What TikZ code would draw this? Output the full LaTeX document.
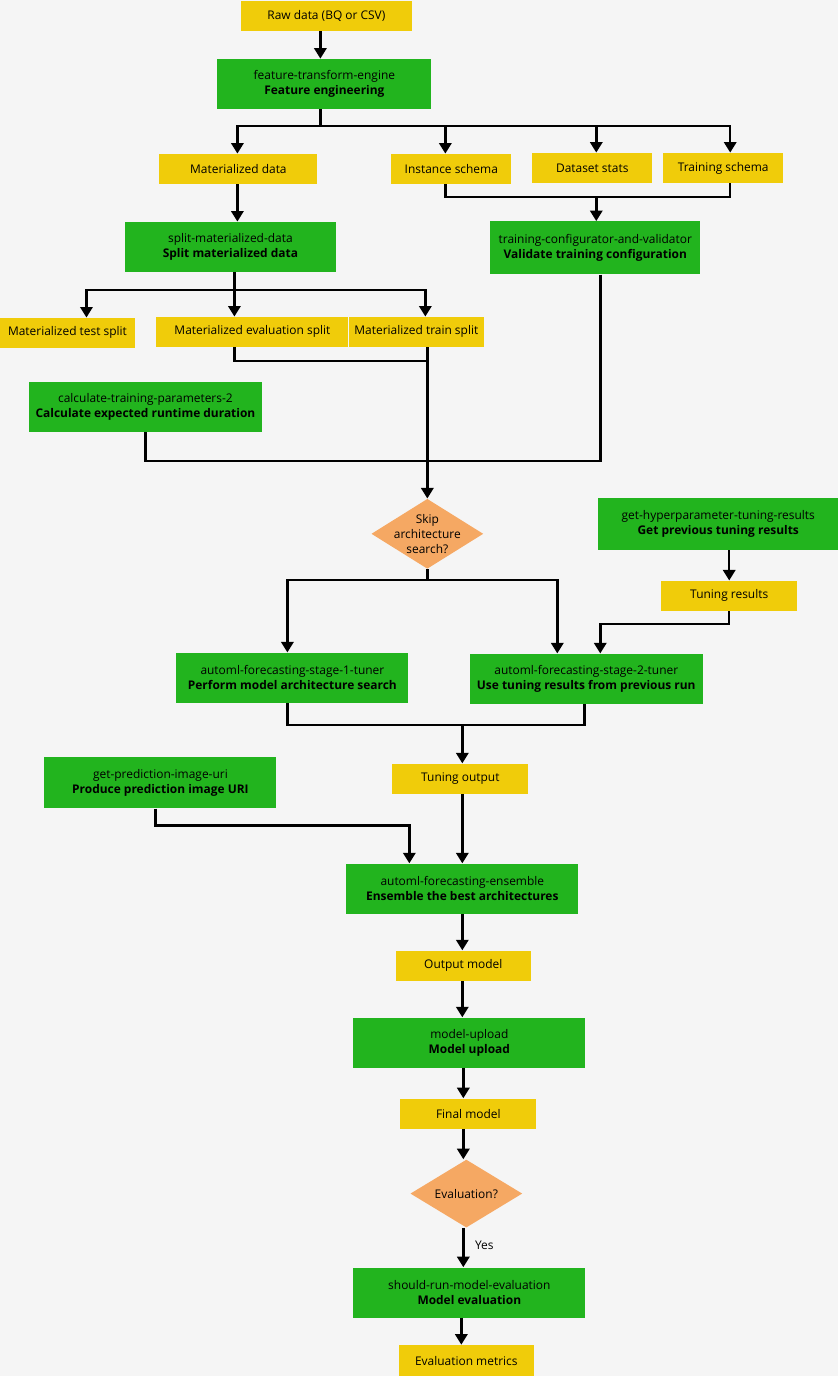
\documentclass[tikz,border=0pt]{standalone}
\usepackage{fontspec}
\setmainfont{Open Sans}
\usetikzlibrary{arrows.meta,shapes.geometric}
\definecolor{bgcol}{RGB}{245,245,245}
\definecolor{ycol}{RGB}{240,204,10}
\definecolor{gcol}{RGB}{34,180,30}
\definecolor{ocol}{RGB}{245,168,99}
\begin{document}
\begin{tikzpicture}[x=0.02cm,y=-0.02cm,
    every node/.style={font=\fontsize{6.8}{8.4}\selectfont, inner sep=0pt},
    data/.style={fill=ycol, minimum width=2.7cm, minimum height=0.6cm},
    task/.style={fill=gcol, align=center, minimum width=4.64cm, minimum height=1cm},
    choice/.style={diamond, fill=ocol, minimum width=2.24cm, minimum height=1.4cm},
    link/.style={line width=1.4pt},
    flow/.style={link, -{Triangle[length=6pt,width=7pt]}}]
        \fill[bgcol] (0,0) rectangle (838,1376);
        % inputs and feature engineering
        \node[data, minimum width=3.42cm] (raw) at (326,16) {Raw data (BQ or CSV)};
        \node[task, minimum width=4.28cm] (fte) at (324,84) {feature-transform-engine\\\textbf{Feature engineering}};
        \node[data, minimum width=3.16cm] (matdata) at (238,169) {Materialized data};
        \node[data, minimum width=2.4cm] (instschema) at (451,169) {Instance schema};
        \node[data, minimum width=2.4cm] (dsstats) at (592,168) {Dataset stats};
        \node[data, minimum width=2.4cm] (trainschema) at (723,168) {Training schema};
        \node[task, minimum width=4.22cm] (split) at (230,247) {split-materialized-data\\\textbf{Split materialized data}};
        \node[task, minimum width=4.2cm, minimum height=1.06cm] (tcv) at (595,248) {training-configurator-and-validator\\\textbf{Validate training configuration}};
        \node[data, minimum width=2.7cm] (mtest) at (67,333) {Materialized test split};
        \node[data, minimum width=3.84cm] (meval) at (252,332) {Materialized evaluation split};
        \node[data, minimum width=2.7cm] (mtrain) at (416,332) {Materialized train split};
        \node[task, minimum width=4.66cm] (ctp) at (145,407) {calculate-training-parameters-2\\\textbf{Calculate expected runtime duration}};
        % architecture search
        \node[choice, label=center:{\parbox{2cm}{\centering Skip\\architecture\\search?}}] (skip) at (427,534) {};
        \node[task, minimum width=4.8cm, minimum height=1.04cm] (ghtr) at (718,524) {get-hyperparameter-tuning-results\\\textbf{Get previous tuning results}};
        \node[data, minimum width=2.72cm] (tunres) at (729,596) {Tuning results};
        \node[task] (stage1) at (292,678) {automl-forecasting-stage-1-tuner\\\textbf{Perform model architecture search}};
        \node[task, minimum width=4.66cm] (stage2) at (586,679) {automl-forecasting-stage-2-tuner\\\textbf{Use tuning results from previous run}};
        \node[data, minimum width=2.72cm] (tunout) at (460,779) {Tuning output};
        \node[task, minimum height=1.02cm] (gpiu) at (160,783) {get-prediction-image-uri\\\textbf{Produce prediction image URI}};
        % ensemble and evaluation
        \node[task] (ensemble) at (462,889) {automl-forecasting-ensemble\\\textbf{Ensemble the best architectures}};
        \node[data] (outmodel) at (463,966) {Output model};
        \node[task] (upload) at (469,1043) {model-upload\\\textbf{Model upload}};
        \node[data, minimum width=2.72cm] (finalmodel) at (468,1114) {Final model};
        \node[choice, minimum height=1.36cm, label=center:Evaluation?] (evalq) at (466,1194) {};
        \node[task] (evalrun) at (469,1293) {should-run-model-evaluation\\\textbf{Model evaluation}};
        \node[data, minimum width=2.7cm, minimum height=0.62cm] (metrics) at (466,1361) {Evaluation metrics};
        % connectors
        \coordinate (fork1) at (320,126);
        \draw[flow] (raw.south -| 320,0) -- (fte.north -| 320,0);
        \draw[link] (fte.south -| fork1) -- (fork1);
        \draw[flow] (fork1) -| (matdata.north -| 237,0);
        \draw[flow] (fork1) -| (instschema.north -| 445,0);
        \draw[flow] (fork1) -| (dsstats.north -| 596,0);
        \draw[flow] (fork1) -| (trainschema.north -| 730,0);
        \coordinate (join1) at (596,197);
        \draw[link] (instschema.south -| 445,0) |- (join1);
        \draw[link] (trainschema.south -| 730,0) |- (join1);
        \draw[flow] (join1) -- (tcv.north -| join1);
        \draw[flow] (matdata.south -| 237,0) -- (split.north -| 237,0);
        \coordinate (fork2) at (234,290);
        \draw[link] (split.south -| fork2) -- (fork2);
        \draw[flow] (fork2) -| (mtest.north -| 86,0);
        \draw[flow] (fork2) -- (meval.north -| fork2);
        \draw[flow] (fork2) -| (mtrain.north -| 425,0);
        \coordinate (join2) at (427,461);
        \draw[link] (meval.south -| 234,0) |- (427,361);
        \draw[link] (ctp.south -| 145,0) |- (join2);
        \draw[link] (tcv.south -| 600,0) |- (join2);
        \draw[flow] (mtrain.south -| 427,0) -- (skip.north);
        \coordinate (fork3) at (427,580);
        \draw[link] (skip.south) -- (fork3);
        \draw[flow] (fork3) -| (stage1.north -| 287,0);
        \draw[flow] (fork3) -| (stage2.north -| 557,0);
        \draw[flow] (ghtr.south -| 729,0) -- (tunres.north -| 729,0);
        \draw[flow] (tunres.south -| 729,0) |- (600,624) -- (stage2.north -| 600,0);
        \coordinate (join3) at (462,725);
        \draw[link] (stage1.south -| 287,0) |- (join3);
        \draw[link] (stage2.south -| 584,0) |- (join3);
        \draw[flow] (join3) -- (tunout.north -| join3);
        \draw[flow] (tunout.south -| 462,0) -- (ensemble.north -| 462,0);
        \draw[flow] (gpiu.south -| 155,0) |- (409,826) -- (ensemble.north -| 409,0);
        \draw[flow] (ensemble.south -| 462,0) -- (outmodel.north -| 462,0);
        \draw[flow] (outmodel.south -| 462,0) -- (upload.north -| 462,0);
        \draw[flow] (upload.south -| 463,0) -- (finalmodel.north -| 463,0);
        \draw[flow] (finalmodel.south -| 463,0) -- (evalq.north -| 463,0);
        \draw[flow] (evalq.south -| 463,0) -- node[right=6pt, pos=0.45] {Yes} (evalrun.north -| 463,0);
        \draw[flow] (evalrun.south -| 461,0) -- (metrics.north -| 461,0);
\end{tikzpicture}
\end{document}
